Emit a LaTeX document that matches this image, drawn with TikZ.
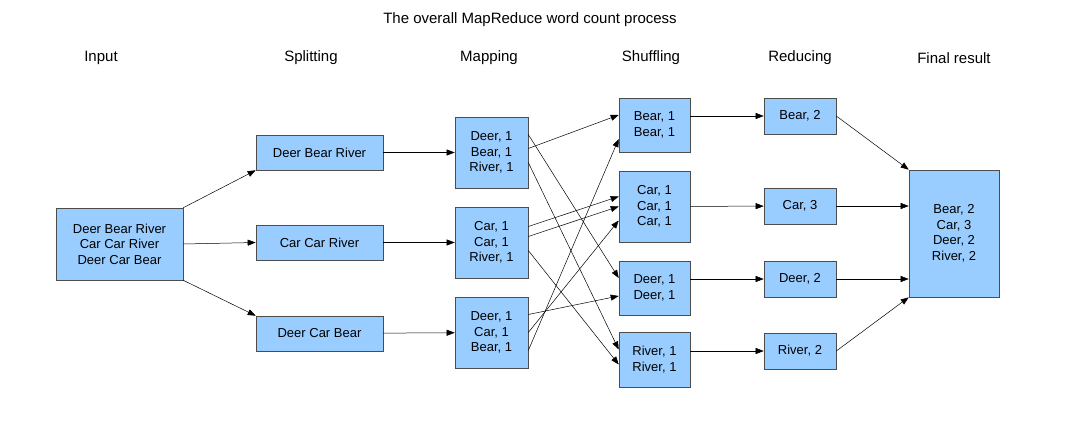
\documentclass[tikz,border=0pt]{standalone}
\usepackage{fontspec}
\setmainfont{Liberation Sans}
\usetikzlibrary{arrows.meta,calc}
\definecolor{boxb}{HTML}{99CCFF}
\begin{document}
\begin{tikzpicture}[x=1pt,y=-1pt,
  box/.style={draw=black!70,fill=boxb,line width=0.6pt,inner sep=0pt,align=center,font=\fontsize{13}{15.5}\selectfont},
  hdr/.style={font=\fontsize{15}{18}\selectfont},
  arr/.style={-{Triangle[length=8pt,width=6pt]},line width=0.5pt}]
\useasboundingbox (0,0) rectangle (1070,428);
\node[hdr] (title) at (530,20) {The overall MapReduce word count process};
\node[hdr] (h1) at (101,58) {Input};
\node[hdr] (h2) at (311,58) {Splitting};
\node[hdr] (h3) at (489,58) {Mapping};
\node[hdr] (h4) at (651,58) {Shuffling};
\node[hdr] (h5) at (800,58) {Reducing};
\node[hdr] (h6) at (954,58) {Final result};

\node[box,minimum width=127pt,minimum height=72pt] (in) at (119.5,244) {Deer Bear River\\Car Car River\\Deer Car Bear};
\node[box,minimum width=127pt,minimum height=35pt] (s1) at (319.5,152.5) {Deer Bear River};
\node[box,minimum width=127pt,minimum height=35pt] (s2) at (319.5,242.5) {Car Car River};
\node[box,minimum width=127pt,minimum height=35pt] (s3) at (319.5,333.5) {Deer Car Bear};
\node[box,minimum width=73pt,minimum height=71pt] (m1) at (491.5,152.5) {Deer, 1\\Bear, 1\\River, 1};
\node[box,minimum width=73pt,minimum height=71pt] (m2) at (491.5,242.5) {Car, 1\\Car, 1\\River, 1};
\node[box,minimum width=73pt,minimum height=71pt] (m3) at (491.5,332.5) {Deer, 1\\Car, 1\\Bear, 1};
\node[box,minimum width=71pt,minimum height=54pt] (sh1) at (654.5,125) {Bear, 1\\Bear, 1};
\node[box,minimum width=71pt,minimum height=71pt] (sh2) at (654.5,206.5) {Car, 1\\Car, 1\\Car, 1};
\node[box,minimum width=71pt,minimum height=54pt] (sh3) at (654.5,288) {Deer, 1\\Deer, 1};
\node[box,minimum width=71pt,minimum height=55pt] (sh4) at (654.5,359.5) {River, 1\\River, 1};
\node[box,minimum width=72pt,minimum height=36pt] (r1) at (800,116) {Bear, 2};
\node[box,minimum width=72pt,minimum height=36pt] (r2) at (800,206) {Car, 3};
\node[box,minimum width=72pt,minimum height=36pt] (r3) at (800,279) {Deer, 2};
\node[box,minimum width=72pt,minimum height=36pt] (r4) at (800,351) {River, 2};
\node[box,minimum width=90pt,minimum height=127pt] (f) at (954,233.5) {Bear, 2\\Car, 3\\Deer, 2\\River, 2};

\draw[arr] (in.north east) -- (s1.south west);
\draw[arr] (in.east) -- (s2.west);
\draw[arr] (in.south east) -- (s3.north west);
\draw[arr] (s1) -- (m1);
\draw[arr] (s2) -- (m2);
\draw[arr] (s3) -- (m3);
% mapping to shuffling
\draw[arr] ($(m1.east)+(0,-18)$) -- ($(sh3.west)+(0,-10)$);
\draw[arr] ($(m1.east)+(0,-4)$) -- ($(sh1.west)+(0,-10)$);
\draw[arr] ($(m1.east)+(0,10)$) -- ($(sh4.west)+(0,-10)$);
\draw[arr] ($(m2.east)+(0,-16)$) -- ($(sh2.west)+(0,-10)$);
\draw[arr] ($(m2.east)+(0,-6)$) -- ($(sh2.west)+(0,0)$);
\draw[arr] ($(m2.east)+(0,8)$) -- ($(sh4.west)+(0,5)$);
\draw[arr] ($(m3.east)+(0,-18)$) -- ($(sh3.west)+(0,8)$);
\draw[arr] ($(m3.east)+(0,0)$) -- ($(sh2.west)+(0,14)$);
\draw[arr] ($(m3.east)+(0,18)$) -- ($(sh1.west)+(0,14)$);
\draw[arr] (sh1.east |- r1) -- (r1);
\draw[arr] (sh2) -- (r2);
\draw[arr] (sh3.east |- r3) -- (r3);
\draw[arr] (sh4.east |- r4) -- (r4);
\draw[arr] (r1.east) -- (f.north west);
\draw[arr] (r2.east) -- (f.west |- r2);
\draw[arr] (r3.east) -- (f.west |- r3);
\draw[arr] (r4.east) -- (f.south west);
\end{tikzpicture}
\end{document}
